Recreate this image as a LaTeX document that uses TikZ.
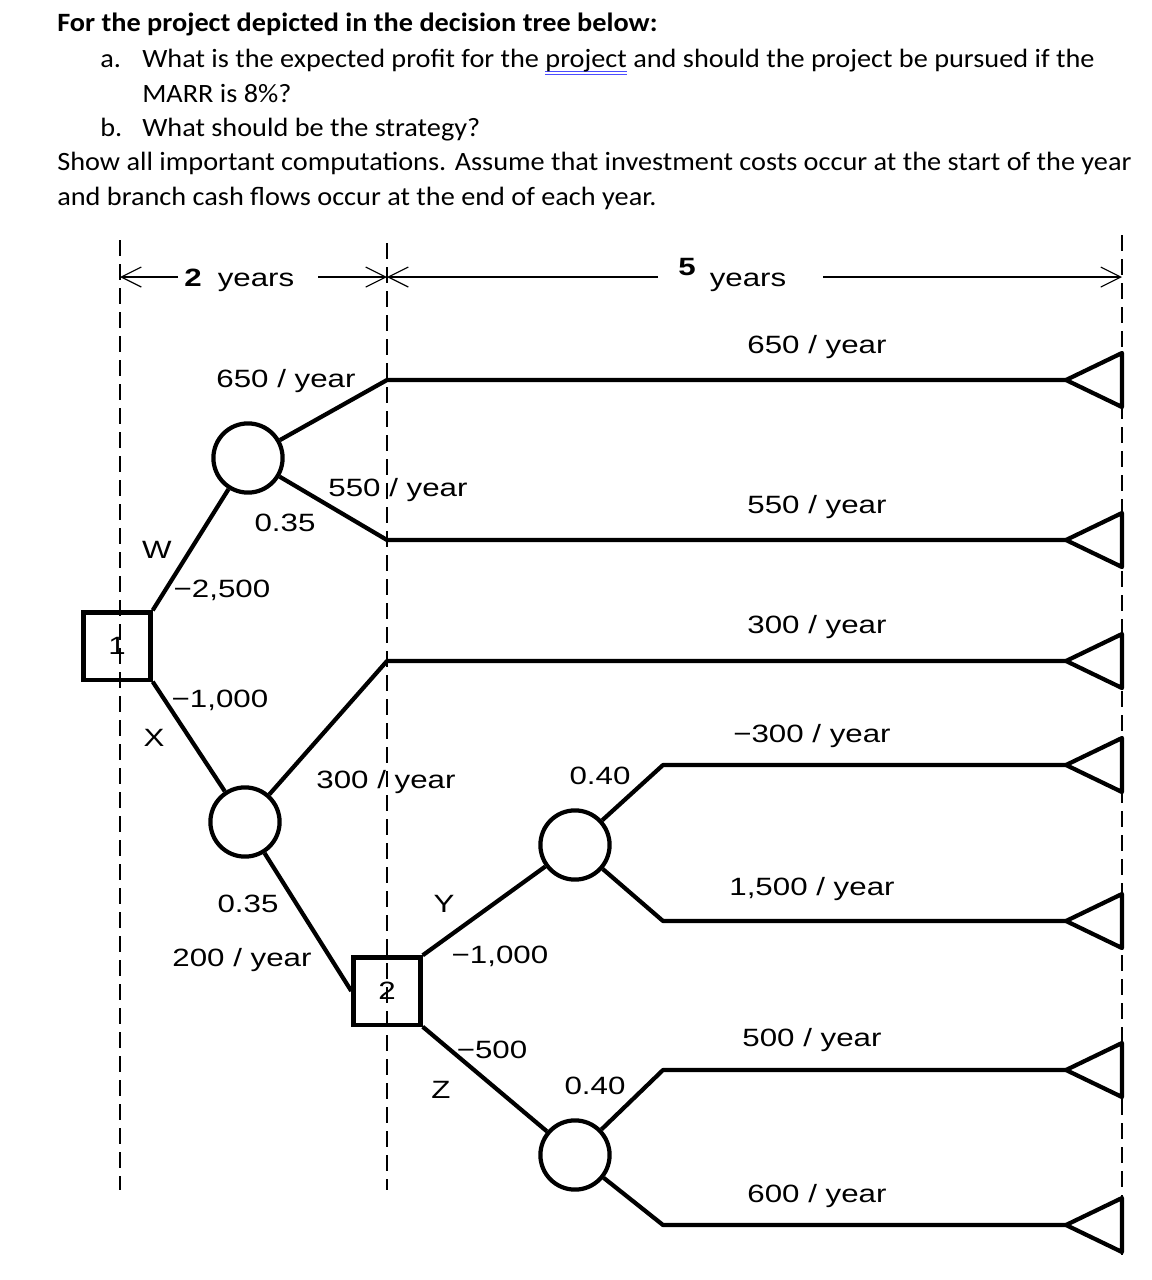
\documentclass[tikz,border=0pt]{standalone}
\usepackage{fontspec}
\setmainfont{Carlito}[FakeStretch=1.07]
\newfontfamily\lblfont[FakeStretch=1.25]{Liberation Sans}
\usetikzlibrary{arrows.meta}
\newcommand\dblul[1]{\leavevmode\setbox0\hbox{#1}\rlap{\color{blue!70}\rule[-3.5pt]{\wd0}{0.6pt}}\rlap{\color{blue!70}\rule[-5.5pt]{\wd0}{0.6pt}}\box0\relax}

\begin{document}
\begin{tikzpicture}[x=0.25mm,y=-0.25mm,>={Straight Barb[length=5mm,width=5mm]},
    every node/.style={inner sep=0pt},
    hdr/.style={anchor=base west,font=\fontsize{18.8}{22}\selectfont},
    lbl/.style={font=\lblfont\fontsize{17.8}{20}\selectfont},
    dec/.style={draw,line width=3pt,minimum width=16.8mm,minimum height=16.8mm,font=\lblfont\fontsize{17.8}{20}\selectfont},
    chance/.style={draw,circle,line width=3pt,minimum size=17.3mm},
    branch/.style={line width=3pt,line join=round},
    guide/.style={line width=1pt,dash pattern=on 4mm off 2mm},
    dim/.style={line width=0.8pt}]
  \useasboundingbox (0,0) rectangle (1152,1280);

  \node[hdr,font=\fontsize{18.8}{22}\selectfont\bfseries] (q0) at (57,31) {For the project depicted in the decision tree below:};
  \node[hdr] (qa) at (100,67) {a.};
  \node[hdr] (qa1) at (142,67) {What is the expected profit for the \dblul{project} and should the project be pursued if the};
  \node[hdr] (qa2) at (142,102) {MARR is 8\%?};
  \node[hdr] (qb) at (100,136) {b.};
  \node[hdr] (qb1) at (142,136) {What should be the strategy?};
  \node[hdr] (q1) at (57,170) {Show all important computations. Assume that investment costs occur at the start of the year};
  \node[hdr] (q2) at (57,205) {and branch cash flows occur at the end of each year.};

  \coordinate (g1t) at (120,240);  \coordinate (g1b) at (120,1190);
  \coordinate (g2t) at (387,243);  \coordinate (g2b) at (387,1190);
  \coordinate (g3t) at (1122,235); \coordinate (g3b) at (1122,1255);
  \draw[guide] (g1t) -- (g1b);
  \draw[guide] (g2t) -- (g2b);
  \draw[guide] (g3t) -- (g3b);

  \node[lbl,font=\lblfont\fontsize{17.8}{20}\selectfont\bfseries] (n2) at (193,278) {2};
  \node[lbl] (yr2) at (256,282) {years};
  \node[lbl,font=\lblfont\fontsize{17.8}{20}\selectfont\bfseries] (n5) at (687,267) {5};
  \node[lbl] (yr5) at (748,282) {years};
  \coordinate (ya) at (120,277); \coordinate (yb) at (387,277); \coordinate (yc) at (1122,277);
  \coordinate (a2) at (178,277); \coordinate (b2) at (318,277);
  \coordinate (b5) at (658,277); \coordinate (c5) at (823,277);
  \draw[dim,->] (a2) -- (ya);
  \draw[dim,->] (b2) -- (yb);
  \draw[dim,->] (b5) -- (yb);
  \draw[dim,->] (c5) -- (yc);

  \node[dec] (d1) at (117,646) {1};
  \node[dec] (d2) at (387,991) {2};
  \node[chance] (cA) at (248,458) {};
  \node[chance] (cB) at (245,822) {};
  \node[chance] (cY) at (575,845) {};
  \node[chance] (cZ) at (575,1155) {};

  \coordinate (pA1) at (387,380); \coordinate (pA2) at (387,540);
  \coordinate (pB1) at (387,661);
  \coordinate (pY1) at (663,765); \coordinate (pY2) at (663,921);
  \coordinate (pZ1) at (663,1070); \coordinate (pZ2) at (663,1225);
  \foreach \i/\y in {1/380,2/540,3/661,4/765,5/921,6/1070,7/1225} {
    \coordinate (e\i) at (1066,\y);
    \draw[branch] (e\i) -- ++(56,-27) -- ++(0,54) -- cycle;
  }

  \draw[branch] (d1.north east) -- (cA);
  \draw[branch] (cA) -- (pA1) -- (e1);
  \draw[branch] (cA) -- (pA2) -- (e2);
  \draw[branch] (d1.south east) -- (cB);
  \draw[branch] (cB) -- (pB1) -- (e3);
  \draw[branch] (cB) -- (d2.west);
  \draw[branch] (d2.north east) -- (cY);
  \draw[branch] (d2.south east) -- (cZ);
  \draw[branch] (cY) -- (pY1) -- (e4);
  \draw[branch] (cY) -- (pY2) -- (e5);
  \draw[branch] (cZ) -- (pZ1) -- (e6);
  \draw[branch] (cZ) -- (pZ2) -- (e7);

  \node[lbl] (lA1) at (286,381) {650 / year};
  \node[lbl] (lA2) at (398,490) {550 / year};
  \node[lbl] (pA) at (285,523) {0.35};
  \node[lbl] (lW) at (157,550) {W};
  \node[lbl] (cW) at (222,590) {−2,500};
  \node[lbl] (cX) at (220,700) {−1,000};
  \node[lbl] (lX) at (154,738) {X};
  \node[lbl] (lB1) at (386,782) {300 / year};
  \node[lbl] (pB) at (248,904) {0.35};
  \node[lbl] (lB2) at (242,960) {200 / year};
  \node[lbl] (lY) at (444,904) {Y};
  \node[lbl] (cYv) at (500,956) {−1,000};
  \node[lbl] (cZv) at (492,1050) {−500};
  \node[lbl] (lZ) at (441,1090) {Z};
  \node[lbl] (pY) at (600,776) {0.40};
  \node[lbl] (pZ) at (595,1086) {0.40};

  \node[lbl] (r1) at (817,347) {650 / year};
  \node[lbl] (r2) at (817,507) {550 / year};
  \node[lbl] (r3) at (817,627) {300 / year};
  \node[lbl] (r4) at (812,736) {−300 / year};
  \node[lbl] (r5) at (812,889) {1,500 / year};
  \node[lbl] (r6) at (812,1040) {500 / year};
  \node[lbl] (r7) at (817,1196) {600 / year};
\end{tikzpicture}
\end{document}
